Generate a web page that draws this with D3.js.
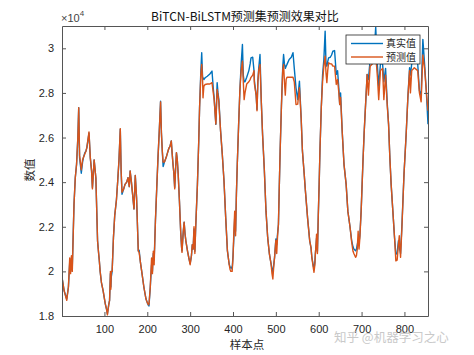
<!DOCTYPE html>
<html lang="zh">
<head>
<meta charset="UTF-8">
<title>BiTCN-BiLSTM预测集预测效果对比</title>
<script src="https://d3js.org/d3.v7.min.js"></script>
<style>
  body { margin: 0; background: #fff; }
  text { font-family: "Liberation Sans", Arial, "Noto Sans CJK SC", sans-serif; }
  .cjk { font-family: "Noto Sans CJK SC", sans-serif; }
</style>
</head>
<body>
<div id="chart"></div>
<script>
// sample index (x)
const sampleIdx = [1,6,12,16,19,21,23,25,29,32,35,38,40,42,46,49,51,54,57,59,64,67,70,72,76,80,84,86,88,90,93,97,102,105,107,110,112,113,114,115,116,118,121,124,128,131,134,137,139,141,145,148,152,155,158,160,163,165,169,172,175,178,179,181,184,187,192,197,200,203,204,207,210,212,214,216,219,222,225,228,231,233,235,237,240,244,247,250,253,256,258,260,262,264,266,268,270,272,275,278,280,281,284,286,288,290,294,297,300,303,305,307,309,311,313,317,320,322,325,327,329,330,332,335,340,346,351,354,356,360,363,365,367,371,375,379,383,387,391,393,395,397,398,400,402,404,406,408,410,413,416,419,422,424,426,428,432,437,440,442,446,449,450,454,456,458,460,463,466,469,473,477,481,485,489,491,493,495,497,500,502,504,506,508,510,513,516,518,520,522,524,526,531,536,540,543,547,551,555,559,562,566,569,574,579,582,584,587,589,591,592,594,595,597,599,601,603,606,609,612,615,617,619,621,623,627,630,633,637,641,644,647,649,651,655,659,664,668,673,677,680,682,686,688,690,692,694,696,699,703,706,709,713,716,720,725,730,733,737,740,744,749,752,756,760,763,766,769,773,777,780,783,786,788,789,791,794,799,804,808,812,814,817,823,831,835,839,843,847,851,855];

// 真实值
const trueVals = [19730,19130,18760,19300,20400,20000,20600,20200,23000,24200,24800,26000,27340,25100,24400,24900,25100,25300,25400,25550,26200,25100,24500,23760,25000,24200,21370,20900,20500,20000,19500,19130,18540,18300,18100,18500,18700,19300,19900,19300,19750,20000,21500,22500,23200,24050,25000,26370,24500,23460,23700,23900,24000,24200,23800,24500,24000,23600,22800,24300,23300,21500,20920,20950,20400,20000,19300,18760,18600,18460,18450,19300,20300,20000,20800,20500,22260,23700,25100,26300,27630,26200,25400,24700,24900,25100,25300,25500,25600,25850,25300,24800,24400,23760,24600,25320,25000,24400,23160,21740,21100,20920,21800,22200,21700,21370,20900,20600,20350,20700,21200,21000,21900,20900,22000,23900,25800,27340,29000,29800,28700,28680,28600,28680,28750,28850,28980,28200,27780,26590,28460,28000,27700,26300,25250,24050,22400,20920,20330,20200,20150,20200,20100,20700,21500,22400,21800,23500,24800,26500,28080,29300,30170,28800,28500,28500,28700,29000,29300,29570,29600,29000,28530,27900,27260,28500,29100,29720,27630,26140,24600,22700,21500,20770,20330,20100,19960,20300,20630,21450,21200,21700,22100,23800,25400,27400,29130,29720,29300,29100,29200,29280,29500,29600,29800,29100,28230,27700,28530,26890,25400,24400,23600,22400,21370,21070,20630,20300,20100,20400,20770,21200,21500,20900,22500,23900,25500,27340,28800,29500,30770,29300,29200,29400,29570,29600,29700,29870,29900,28830,29000,28200,27480,28000,26200,24800,23900,22700,22000,21370,21100,21000,20920,21000,21200,21400,21300,21600,22700,24800,26200,27340,28830,28600,29500,29600,30000,30950,29200,28300,29300,29300,28500,29100,27500,26590,25100,23900,22700,21500,20770,20800,21370,21300,21000,20800,22000,24350,26140,27780,29130,28800,29300,29570,29300,28100,27900,30400,29300,28100,26600];

// 预测值
const predVals = [19730,19130,18700,19300,20600,19900,20700,20000,23000,24200,24800,26000,27340,25200,24550,25000,25100,25250,25400,25550,26250,25100,24500,23700,25000,24200,21370,20900,20500,20000,19500,19130,18540,18300,18050,18500,18700,19300,20000,19200,20000,20000,21500,22500,23200,24050,25000,26400,24500,23550,23700,23900,24000,24200,23800,24500,24000,23600,22800,24300,23300,21500,20920,20850,20400,20000,19300,18760,18600,18500,18550,19300,20600,19900,20900,20300,22260,23700,25100,26300,27600,26200,25400,24900,24900,25100,25300,25500,25600,25850,25300,24800,24400,23700,24600,25320,25000,24400,23160,21740,21100,20850,21800,22200,21700,21370,20900,20600,20300,20700,21200,21000,22000,20800,22000,23900,25800,27340,28800,29280,28600,27780,28300,28380,28400,28400,28460,28000,27700,26600,28160,27900,27600,26300,25250,24050,22400,20920,20330,20100,20000,20000,20000,20600,21800,22700,21600,23500,24800,26500,28080,29000,29420,28500,27700,28000,28400,28500,28600,28700,28800,29000,28400,27900,27200,28500,29000,29280,27630,26140,24600,22700,21500,20770,20300,19900,19660,20200,20630,21400,20800,21600,22100,23800,25400,27400,29000,29280,28500,27900,28600,28700,28700,28700,28700,28500,27480,27500,28230,26890,25400,24400,23600,22400,21370,21070,20630,20200,19960,20300,20700,21300,21670,20800,22500,23900,25500,27340,28500,29200,29650,28900,28460,29000,29350,29300,29300,29200,29200,28380,28600,28000,27480,27800,26200,24800,23900,22700,22000,21300,20900,20800,20630,20700,21000,21800,21000,21500,22700,24800,26200,27340,28830,27900,29200,29300,29500,29700,28700,27700,29000,29100,27700,28800,27400,26590,25100,23900,22700,21500,20470,20500,21200,21600,21200,20630,21900,24350,26140,27780,29000,28000,29000,29130,29000,28000,27600,29700,29100,28100,27200];

const yTicks = [18000,20000,22000,24000,26000,28000,30000];
const xTicks = [100,200,300,400,500,600,700,800];
const seriesNames = ["真实值", "预测值"];
const colors = ["#0072BD", "#D95319"];

if (trueVals.length !== sampleIdx.length || predVals.length !== sampleIdx.length) {
  throw new Error(`length mismatch idx=${sampleIdx.length} true=${trueVals.length} pred=${predVals.length}`);
}

const W = 474, H = 355;
const m = { left: 62, right: 46, top: 26, bottom: 39 };
const iw = W - m.left - m.right, ih = H - m.top - m.bottom;

const svg = d3.select("#chart").append("svg")
  .attr("width", W).attr("height", H);

const x = d3.scaleLinear().domain([1, 855]).range([m.left, m.left + iw]);
const y = d3.scaleLinear().domain([18000, 31000]).range([m.top + ih, m.top]);

svg.append("defs").append("clipPath").attr("id", "clip")
  .append("rect").attr("x", m.left).attr("y", m.top).attr("width", iw).attr("height", ih);

// lines
const series = [trueVals, predVals];
series.forEach((vals, k) => {
  const line = d3.line()
    .x((d, i) => x(sampleIdx[i]))
    .y(d => y(d));
  svg.append("path")
    .datum(vals)
    .attr("clip-path", "url(#clip)")
    .attr("fill", "none")
    .attr("stroke", colors[k])
    .attr("stroke-width", 1.4)
    .attr("stroke-linejoin", "round")
    .attr("d", line);
});

// axes (MATLAB style, ticks inside, box on)
const axColor = "#555";
const tickLen = 4;
const gBottom = svg.append("g").attr("transform", `translate(0,${m.top + ih})`)
  .call(d3.axisBottom(x).tickValues(xTicks).tickSizeInner(-tickLen).tickSizeOuter(0).tickPadding(9));
const gTop = svg.append("g").attr("transform", `translate(0,${m.top})`)
  .call(d3.axisTop(x).tickValues(xTicks).tickSizeInner(-tickLen).tickSizeOuter(0).tickFormat(""));
const gLeft = svg.append("g").attr("transform", `translate(${m.left},0)`)
  .call(d3.axisLeft(y).tickValues(yTicks).tickSizeInner(-tickLen).tickSizeOuter(0).tickPadding(8)
    .tickFormat(d => d3.format("~g")(d / 10000)));
const gRight = svg.append("g").attr("transform", `translate(${m.left + iw},0)`)
  .call(d3.axisRight(y).tickValues(yTicks).tickSizeInner(-tickLen).tickSizeOuter(0).tickFormat(""));

[gBottom, gTop, gLeft, gRight].forEach(g => {
  g.selectAll(".domain").attr("stroke", axColor).attr("stroke-width", 1);
  g.selectAll(".tick line").attr("stroke", axColor);
  g.selectAll(".tick text").attr("fill", "#262626").attr("font-size", 11)
    .style("font-family", "'Liberation Sans', Arial, sans-serif");
});

// exponent label
const ex = svg.append("text").attr("x", m.left - 1).attr("y", 22)
  .attr("font-size", 11).attr("fill", "#444");
ex.append("tspan").text("×10");
ex.append("tspan").attr("dy", -6).attr("font-size", 8).text("4");

// title
svg.append("text").attr("class", "cjk")
  .attr("x", m.left + iw / 2).attr("y", 21)
  .attr("text-anchor", "middle").attr("font-size", 12).attr("fill", "#111")
  .text("BiTCN-BiLSTM预测集预测效果对比");

// axis labels
svg.append("text").attr("class", "cjk")
  .attr("x", m.left + iw / 2 + 2).attr("y", 349)
  .attr("text-anchor", "middle").attr("font-size", 11.5).attr("fill", "#262626")
  .text("样本点");
svg.append("text").attr("class", "cjk")
  .attr("transform", "translate(34,170) rotate(-90)")
  .attr("text-anchor", "middle").attr("font-size", 11.5).attr("fill", "#262626")
  .text("数值");

// legend
const lg = svg.append("g").attr("transform", "translate(346,35)");
lg.append("rect").attr("width", 74).attr("height", 29)
  .attr("fill", "#fff").attr("stroke", "#262626").attr("stroke-width", 0.8);
seriesNames.forEach((name, k) => {
  const yy = 8.5 + k * 13.5;
  lg.append("line").attr("x1", 5).attr("x2", 37).attr("y1", yy).attr("y2", yy)
    .attr("stroke", colors[k]).attr("stroke-width", 1.4);
  lg.append("text").attr("class", "cjk").attr("x", 40).attr("y", yy + 3.5)
    .attr("font-size", 10).attr("fill", "#262626").text(name);
});

// watermark
svg.append("text").attr("class", "cjk")
  .attr("x", 334).attr("y", 342).attr("font-size", 12.5)
  .attr("fill", "#c9c9c9").text("知乎 @机器学习之心");
</script>
</body>
</html>
